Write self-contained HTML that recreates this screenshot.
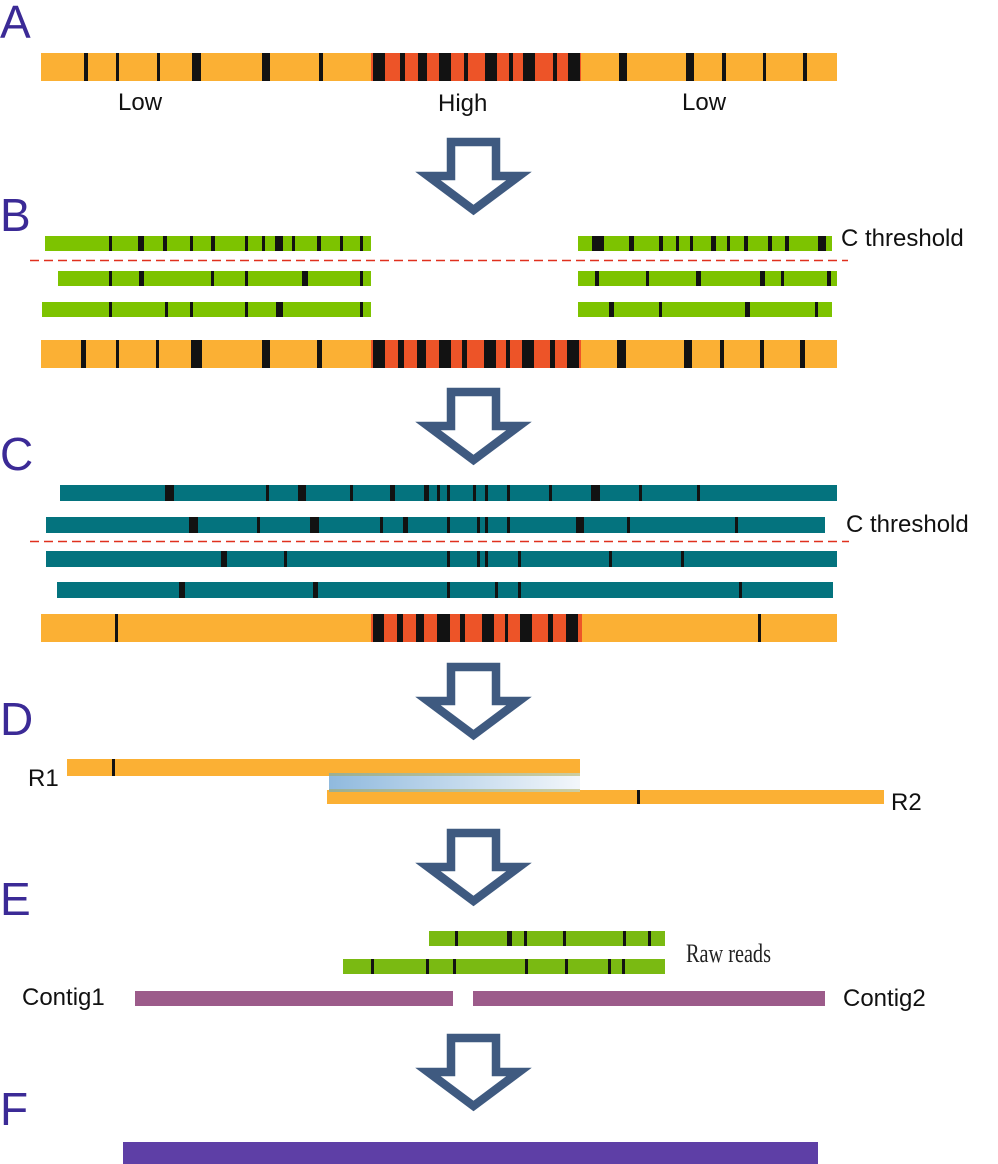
<!DOCTYPE html>
<html><head><meta charset="utf-8"><style>
html,body{margin:0;padding:0;background:#fff}
svg{display:block}
.t{font-family:"Liberation Sans",sans-serif;fill:#111}
.L{font-family:"Liberation Sans",sans-serif;fill:#3b2a96;font-size:46px}
.a rect{height:28px}
.b rect{height:15px}
.c rect{height:16px}
</style></head><body>
<svg width="998" height="1164" viewBox="0 0 998 1164" xmlns="http://www.w3.org/2000/svg">
<defs>
<linearGradient id="bl" x1="0" x2="1"><stop offset="0" stop-color="#8ab6dc"/><stop offset="1" stop-color="#f2f6fa"/></linearGradient>
<g id="arw"><polygon points="451,4 496,4 496,38 519,38 473.5,72 428,38 451,38" fill="#fff" stroke="#3f5a80" stroke-width="8.5" stroke-linejoin="miter"/></g>
</defs>

<!-- letters -->
<text class="L" x="0" y="38">A</text>
<text class="L" x="0" y="231">B</text>
<text class="L" x="0" y="470">C</text>
<text class="L" x="0" y="735">D</text>
<text class="L" x="0" y="915">E</text>
<text class="L" x="0" y="1125">F</text>

<!-- arrows -->
<use href="#arw" y="138"/>
<use href="#arw" y="388"/>
<use href="#arw" y="663"/>
<use href="#arw" y="829"/>
<use href="#arw" y="1034"/>

<!-- A -->
<g class="a" transform="translate(0,53)">
<rect x="41" width="796" fill="#fbb034"/><rect x="371" width="210" fill="#ed5428"/>
<g fill="#121212"><rect x="84" width="4"/><rect x="116" width="3"/><rect x="157" width="3"/><rect x="192" width="9"/><rect x="262" width="8"/><rect x="319" width="4"/>
<rect x="373" width="12"/><rect x="400" width="5"/><rect x="418" width="9"/><rect x="439" width="12"/><rect x="464" width="4"/><rect x="485" width="12"/><rect x="509" width="4"/><rect x="523" width="12"/><rect x="553" width="4"/><rect x="568" width="12"/>
<rect x="619" width="8"/><rect x="686" width="8"/><rect x="722" width="4"/><rect x="763" width="3"/><rect x="803" width="4"/></g>
</g>
<text class="t" x="118" y="110" font-size="24">Low</text>
<text class="t" x="438" y="111" font-size="24">High</text>
<text class="t" x="682" y="110" font-size="24">Low</text>

<!-- B -->
<g class="b" fill="#121212">
<g transform="translate(0,236)"><rect x="45" width="326" fill="#7dc300"/><rect x="578" width="254" fill="#7dc300"/>
<rect x="109" width="3"/><rect x="138" width="6"/><rect x="163" width="4"/><rect x="190" width="3"/><rect x="211" width="4"/><rect x="245" width="3"/><rect x="262" width="3"/><rect x="275" width="8"/><rect x="292" width="3"/><rect x="317" width="4"/><rect x="340" width="3"/><rect x="360" width="3"/>
<rect x="592" width="12"/><rect x="629" width="5"/><rect x="659" width="4"/><rect x="676" width="3"/><rect x="690" width="3"/><rect x="711" width="5"/><rect x="727" width="3"/><rect x="744" width="4"/><rect x="768" width="4"/><rect x="785" width="4"/><rect x="818" width="8"/></g>
<g transform="translate(0,271)"><rect x="58" width="313" fill="#7dc300"/><rect x="578" width="259" fill="#7dc300"/>
<rect x="109" width="3"/><rect x="139" width="5"/><rect x="211" width="3"/><rect x="245" width="3"/><rect x="302" width="6"/><rect x="360" width="3"/>
<rect x="595" width="4"/><rect x="646" width="3"/><rect x="696" width="5"/><rect x="760" width="5"/><rect x="781" width="3"/><rect x="827" width="4"/></g>
<g transform="translate(0,302)"><rect x="42" width="329" fill="#7dc300"/><rect x="578" width="254" fill="#7dc300"/>
<rect x="109" width="3"/><rect x="165" width="3"/><rect x="190" width="3"/><rect x="245" width="3"/><rect x="276" width="7"/><rect x="360" width="3"/>
<rect x="609" width="5"/><rect x="659" width="3"/><rect x="745" width="5"/><rect x="815" width="3"/></g>
</g>
<line x1="30" y1="260.5" x2="848" y2="260.5" stroke="#e0301e" stroke-width="1.5" stroke-dasharray="9,5"/>
<text class="t" x="841" y="246" font-size="24">C threshold</text>
<g class="a" transform="translate(0,340)">
<rect x="41" width="796" height="27" fill="#fbb034"/><rect x="371" width="210" fill="#ed5428"/>
<g fill="#121212"><rect x="81" width="5"/><rect x="116" width="3"/><rect x="156" width="3"/><rect x="191" width="11"/><rect x="262" width="8"/><rect x="317" width="5"/>
<rect x="373" width="12"/><rect x="398" width="6"/><rect x="417" width="9"/><rect x="439" width="12"/><rect x="462" width="5"/><rect x="484" width="12"/><rect x="506" width="4"/><rect x="522" width="12"/><rect x="550" width="5"/><rect x="567" width="12"/>
<rect x="617" width="9"/><rect x="684" width="8"/><rect x="720" width="4"/><rect x="760" width="4"/><rect x="800" width="5"/></g>
</g>

<!-- C -->
<g class="c" fill="#121212">
<g transform="translate(0,485)"><rect x="60" width="777" fill="#04737e"/>
<rect x="165" width="9"/><rect x="266" width="3"/><rect x="298" width="8"/><rect x="350" width="3"/><rect x="390" width="5"/><rect x="424" width="5"/><rect x="437" width="3"/><rect x="447" width="3"/><rect x="473" width="3"/><rect x="485" width="3"/><rect x="507" width="3"/><rect x="549" width="3"/><rect x="591" width="9"/><rect x="639" width="3"/><rect x="697" width="3"/></g>
<g transform="translate(0,517)"><rect x="46" width="779" fill="#04737e"/>
<rect x="189" width="9"/><rect x="257" width="3"/><rect x="310" width="9"/><rect x="380" width="3"/><rect x="403" width="5"/><rect x="447" width="3"/><rect x="477" width="3"/><rect x="485" width="3"/><rect x="507" width="3"/><rect x="576" width="8"/><rect x="627" width="3"/><rect x="735" width="3"/></g>
<g transform="translate(0,551)"><rect x="46" width="791" fill="#04737e"/>
<rect x="221" width="6"/><rect x="284" width="3"/><rect x="447" width="3"/><rect x="477" width="3"/><rect x="485" width="3"/><rect x="518" width="3"/><rect x="609" width="3"/><rect x="681" width="3"/></g>
<g transform="translate(0,582)"><rect x="57" width="776" height="15" fill="#04737e"/>
<rect x="179" width="6"/><rect x="313" width="5"/><rect x="447" width="3"/><rect x="495" width="3"/><rect x="518" width="3"/><rect x="739" width="3"/></g>
</g>
<line x1="30" y1="541.5" x2="849" y2="541.5" stroke="#e0301e" stroke-width="1.5" stroke-dasharray="9,5"/>
<text class="t" x="846" y="532" font-size="24">C threshold</text>
<g class="a" transform="translate(0,614)">
<rect x="41" width="796" height="26" fill="#fbb034"/><rect x="371" width="211" height="26" fill="#ed5428"/>
<g fill="#121212"><rect x="115" width="3" height="26"/>
<rect x="373" width="11" height="26"/><rect x="397" width="6" height="26"/><rect x="416" width="8" height="26"/><rect x="437" width="13" height="26"/><rect x="460" width="5" height="26"/><rect x="482" width="12" height="26"/><rect x="505" width="3" height="26"/><rect x="520" width="12" height="26"/><rect x="548" width="5" height="26"/><rect x="566" width="12" height="26"/><rect x="758" width="3" height="26"/></g>
</g>

<!-- D -->
<rect x="67" y="759" width="513" height="17" fill="#fbb034"/>
<rect x="112" y="759" width="3" height="17" fill="#121212"/>
<rect x="327" y="790" width="557" height="14" fill="#fbb034"/>
<rect x="637" y="790" width="3" height="14" fill="#121212"/>
<rect x="329" y="773" width="251" height="19" fill="url(#bl)" opacity="0.95"/>
<rect x="329" y="773" width="251" height="3" fill="#a8a850" opacity="0.5"/>
<rect x="329" y="789" width="251" height="3" fill="#a8a850" opacity="0.5"/>
<text class="t" x="28" y="786" font-size="24">R1</text>
<text class="t" x="891" y="810" font-size="24">R2</text>

<!-- E -->
<g fill="#121212">
<rect x="429" y="931" width="236" height="15" fill="#7aba12"/>
<rect x="455" y="931" width="3" height="15"/><rect x="507" y="931" width="5" height="15"/><rect x="524" y="931" width="3" height="15"/><rect x="563" y="931" width="3" height="15"/><rect x="623" y="931" width="3" height="15"/><rect x="648" y="931" width="3" height="15"/>
<rect x="343" y="959" width="322" height="15" fill="#7aba12"/>
<rect x="371" y="959" width="3" height="15"/><rect x="426" y="959" width="3" height="15"/><rect x="453" y="959" width="3" height="15"/><rect x="525" y="959" width="3" height="15"/><rect x="565" y="959" width="3" height="15"/><rect x="608" y="959" width="3" height="15"/><rect x="622" y="959" width="3" height="15"/>
</g>
<text x="686" y="962" font-family="'Liberation Serif',serif" font-size="26" fill="#222" transform="translate(686,962) scale(0.78,1) translate(-686,-962)">Raw reads</text>
<rect x="135" y="991" width="318" height="15" fill="#9c5b8a"/>
<rect x="473" y="991" width="352" height="15" fill="#9c5b8a"/>
<text class="t" x="22" y="1005" font-size="24">Contig1</text>
<text class="t" x="843" y="1006" font-size="24">Contig2</text>

<!-- F -->
<rect x="123" y="1142" width="695" height="22" fill="#5e3fa6"/>
</svg>
</body></html>
